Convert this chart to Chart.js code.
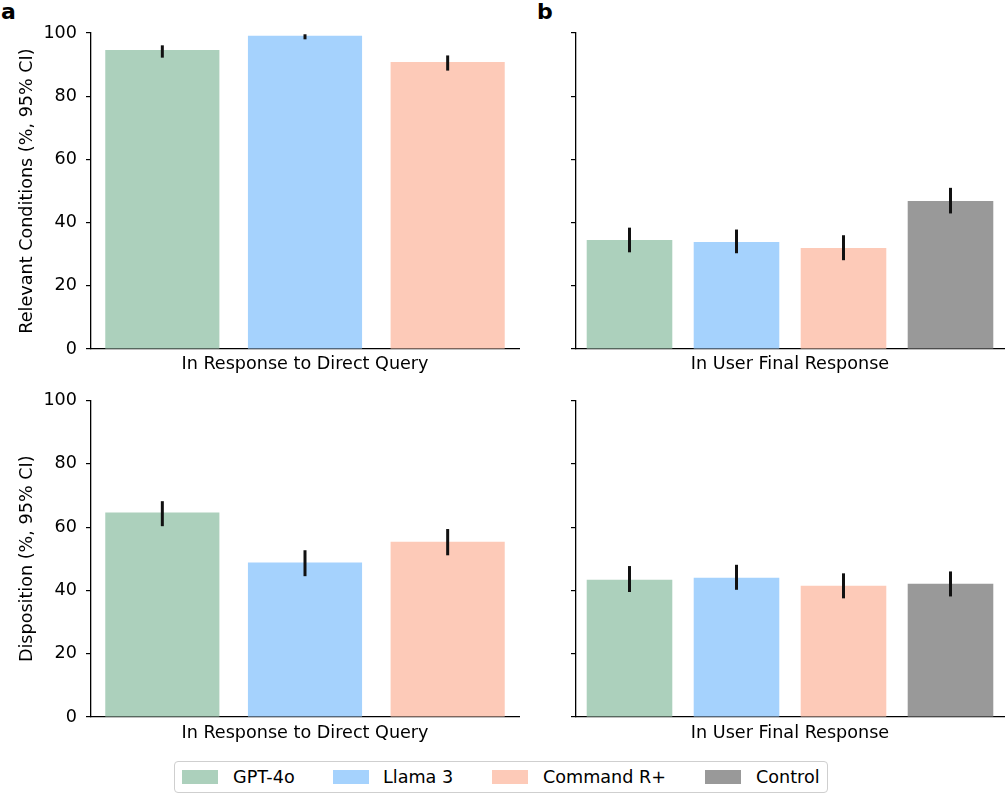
<!DOCTYPE html>
<html>
<head>
<meta charset="utf-8">
<script src="https://cdn.jsdelivr.net/npm/chart.js@4"></script>
<style>
  html, body { margin: 0; padding: 0; background: #fff; }
  body { width: 1006px; height: 796px; position: relative; overflow: hidden; font-family: 'DejaVu Sans', sans-serif; }
  canvas { position: absolute; }
  .panel { position: absolute; font-weight: bold; font-size: 22px; line-height: 1; color: #000; }
  #legend { position: absolute; left: 174px; top: 761px; width: 654px; height: 32px; border: 1px solid #cfcfcf; border-radius: 4px; box-sizing: border-box; }
  .patch { position: absolute; width: 36px; height: 14px; top: 8px; }
  .ltext { position: absolute; top: 4px; font-size: 17.6px; line-height: 22px; color: #000; white-space: nowrap; }
</style>
</head>
<body>
<div class="panel" style="left:1px; top:1px;">a</div>
<div class="panel" style="left:537px; top:1px;">b</div>
<canvas id="c1" width="520" height="385" style="left:0; top:0;"></canvas>
<canvas id="c2" width="486" height="385" style="left:520px; top:0;"></canvas>
<canvas id="c3" width="520" height="374" style="left:0; top:381px;"></canvas>
<canvas id="c4" width="486" height="374" style="left:520px; top:381px;"></canvas>
<div id="legend"></div>
<script>
// ---- data ----
const categoriesDirect = ['GPT-4o', 'Llama 3', 'Command R+'];
const categoriesFinal = ['GPT-4o', 'Llama 3', 'Command R+', 'Control'];
const legendLabels = ['GPT-4o', 'Llama 3', 'Command R+', 'Control'];
const yTickValues = [0, 20, 40, 60, 80, 100];

const relevantDirect = [94.6, 99.1, 90.8];
const relevantDirectLow = [92.2, 98.0, 88.1];
const relevantDirectHigh = [96.1, 99.6, 92.9];

const relevantFinal = [34.5, 33.9, 32.0, 46.8];
const relevantFinalLow = [30.6, 30.3, 28.1, 42.9];
const relevantFinalHigh = [38.4, 37.8, 36.0, 51.0];

const dispositionDirect = [64.6, 48.8, 55.4];
const dispositionDirectLow = [60.3, 44.5, 51.1];
const dispositionDirectHigh = [68.2, 52.7, 59.4];

const dispositionFinal = [43.4, 44.0, 41.5, 42.1];
const dispositionFinalLow = [39.5, 40.2, 37.5, 38.1];
const dispositionFinalHigh = [47.7, 48.1, 45.4, 46.0];

const colors = ['#acd0bc', '#a5d2fd', '#fdcab8', '#999999'];

// ---- setup ----
const FS = 17.6;
Chart.defaults.font.family = "'DejaVu Sans', sans-serif";
Chart.defaults.font.size = FS;
Chart.defaults.color = '#000';

const errorBarPlugin = {
  id: 'errorBars',
  afterDatasetsDraw(chart, args, opts) {
    const ctx = chart.ctx;
    const meta = chart.getDatasetMeta(0);
    const ys = chart.scales.y;
    ctx.save();
    ctx.strokeStyle = '#111';
    ctx.lineWidth = 3;
    ctx.lineCap = 'butt';
    meta.data.forEach((bar, i) => {
      const lo = ys.getPixelForValue(opts.low[i]);
      const hi = ys.getPixelForValue(opts.high[i]);
      ctx.beginPath();
      ctx.moveTo(bar.x, lo);
      ctx.lineTo(bar.x, hi);
      ctx.stroke();
    });
    ctx.restore();
  }
};

function makeChart(id, cats, vals, low, high, opt) {
  new Chart(document.getElementById(id), {
    type: 'bar',
    data: {
      labels: cats,
      datasets: [{
        data: vals,
        backgroundColor: colors.slice(0, cats.length),
        borderWidth: 0,
        categoryPercentage: 1.0,
        barPercentage: 0.8
      }]
    },
    options: {
      responsive: false,
      maintainAspectRatio: false,
      animation: false,
      events: [],
      layout: { padding: { top: opt.padTop, right: opt.padRight, left: 0, bottom: 0 } },
      plugins: {
        legend: { display: false },
        tooltip: { enabled: false },
        errorBars: { low: low, high: high }
      },
      scales: {
        x: {
          type: 'category',
          offset: true,
          grid: { display: false },
          border: { display: true, color: '#000', width: 1.3 },
          ticks: { display: false },
          title: { display: true, text: opt.xTitle, padding: { top: 0, bottom: opt.xTitlePad }, font: { size: FS } },
          afterFit(scale) { scale.height = opt.xHeight; }
        },
        y: {
          min: 0, max: 100,
          afterBuildTicks(scale) { scale.ticks = yTickValues.map(v => ({ value: v })); },
          grid: { display: true, drawOnChartArea: false, drawTicks: true, tickLength: 5, color: '#000', lineWidth: 1.2 },
          border: { display: true, color: '#000', width: 1.3 },
          ticks: {
            padding: 9,
            font: { size: FS },
            callback: opt.showYLabels ? (v) => String(v) : () => ''
          },
          title: opt.yTitle ? { display: true, text: opt.yTitle, padding: { top: 16.5, bottom: 0 }, font: { size: FS } } : { display: false },
          afterFit(scale) { scale.width = opt.yWidth; }
        }
      }
    },
    plugins: [errorBarPlugin]
  });
}

makeChart('c1', categoriesDirect, relevantDirect, relevantDirectLow, relevantDirectHigh, {
  padTop: 33, padRight: 1, xHeight: 36, xTitlePad: 10, yWidth: 91, showYLabels: true,
  yTitle: 'Relevant Conditions (%, 95% CI)', xTitle: 'In Response to Direct Query'
});
makeChart('c2', categoriesFinal, relevantFinal, relevantFinalLow, relevantFinalHigh, {
  padTop: 33, padRight: 2, xHeight: 36, xTitlePad: 10, yWidth: 56, showYLabels: false,
  yTitle: null, xTitle: 'In User Final Response'
});
makeChart('c3', categoriesDirect, dispositionDirect, dispositionDirectLow, dispositionDirectHigh, {
  padTop: 16, padRight: 1, xHeight: 38, xTitlePad: 11, yWidth: 91, showYLabels: true,
  yTitle: 'Disposition (%, 95% CI)', xTitle: 'In Response to Direct Query'
});
makeChart('c4', categoriesFinal, dispositionFinal, dispositionFinalLow, dispositionFinalHigh, {
  padTop: 16, padRight: 2, xHeight: 38, xTitlePad: 11, yWidth: 56, showYLabels: false,
  yTitle: null, xTitle: 'In User Final Response'
});

// ---- legend ----
const legend = document.getElementById('legend');
const patchX = [7, 158, 317, 530];
const textX = [58, 208, 368, 581];
legendLabels.forEach((lab, i) => {
  const p = document.createElement('div');
  p.className = 'patch';
  p.style.left = patchX[i] + 'px';
  p.style.background = colors[i];
  legend.appendChild(p);
  const t = document.createElement('div');
  t.className = 'ltext';
  t.style.left = textX[i] + 'px';
  t.textContent = lab;
  legend.appendChild(t);
});
</script>
</body>
</html>
